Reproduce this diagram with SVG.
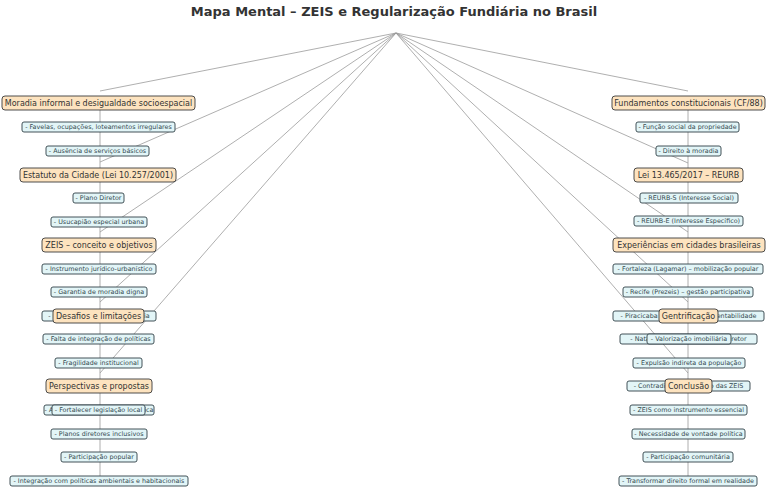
<svg xmlns="http://www.w3.org/2000/svg" width="768" height="500" viewBox="0 0 768 500">
<style>
.bg{fill:#ffffff}
.title{font-family:"DejaVu Sans",sans-serif;font-size:13px;font-weight:bold;fill:#333333;text-anchor:middle}
.main rect{fill:#fde3bf;stroke:#3a3a3a;stroke-width:0.9}
.main text{font-family:"DejaVu Sans",sans-serif;font-size:8px;fill:#333333;text-anchor:middle;dominant-baseline:central}
.leaf rect{fill:#e2f5f7;stroke:#2f3f45;stroke-width:0.9}
.leaf text{font-family:"DejaVu Sans",sans-serif;font-size:6.4px;fill:#34494f;text-anchor:middle;dominant-baseline:central}
.conn line{stroke:#9a9a9a;stroke-width:0.8;fill:none}
.spine{stroke:#9a9a9a;stroke-width:1}
</style>
<rect class="bg" x="0" y="0" width="768" height="500"/>
<text class="title" x="394" y="16">Mapa Mental – ZEIS e Regularização Fundiária no Brasil</text>
<g id="connectors" class="conn">
<line x1="396" y1="33" x2="100" y2="91"/>
<line x1="396" y1="33" x2="100" y2="162"/>
<line x1="396" y1="33" x2="100" y2="232"/>
<line x1="396" y1="33" x2="100" y2="302"/>
<line x1="396" y1="33" x2="100" y2="373"/>
<line x1="396" y1="33" x2="688" y2="91"/>
<line x1="396" y1="33" x2="688" y2="163"/>
<line x1="396" y1="33" x2="688" y2="232"/>
<line x1="396" y1="33" x2="688" y2="302"/>
<line x1="396" y1="33" x2="688" y2="373"/>
<line class="spine" x1="100" y1="103" x2="100" y2="481"/>
<line class="spine" x1="688" y1="103" x2="688" y2="481"/>
</g>
<!-- Left column -->
<g id="moradia" class="main"><rect x="2" y="96" width="193" height="14" rx="3"/><text x="98.5" y="103">Moradia informal e desigualdade socioespacial</text></g>
<g id="favelas" class="leaf"><rect x="22" y="122" width="153" height="10" rx="2"/><text x="98.5" y="127">- Favelas, ocupações, loteamentos irregulares</text></g>
<g id="ausencia" class="leaf"><rect x="46" y="146" width="103" height="10" rx="2"/><text x="97.5" y="151">- Ausência de serviços básicos</text></g>
<g id="estatuto" class="main"><rect x="20" y="168" width="156" height="14" rx="3"/><text x="98" y="175">Estatuto da Cidade (Lei 10.257/2001)</text></g>
<g id="plano-diretor" class="leaf"><rect x="73" y="193" width="51" height="10" rx="2"/><text x="98.5" y="198">- Plano Diretor</text></g>
<g id="usucapiao" class="leaf"><rect x="51" y="217" width="96" height="10" rx="2"/><text x="99" y="222">- Usucapião especial urbana</text></g>
<g id="zeis" class="main"><rect x="42" y="238" width="114" height="14" rx="3"/><text x="99" y="245">ZEIS – conceito e objetivos</text></g>
<g id="instrumento" class="leaf"><rect x="42" y="264" width="114" height="10" rx="2"/><text x="99" y="269">- Instrumento jurídico-urbanístico</text></g>
<g id="garantia" class="leaf"><rect x="51" y="287" width="96" height="10" rx="2"/><text x="99" y="292">- Garantia de moradia digna</text></g>
<g id="incerteza" class="leaf"><rect x="42" y="311" width="114" height="10" rx="2"/><text x="99" y="316">- Incerteza jurídica e burocracia</text></g>
<g id="desafios" class="main"><rect x="53" y="309" width="91" height="14" rx="3"/><text x="98.5" y="316">Desafios e limitações</text></g>
<g id="falta" class="leaf"><rect x="43" y="334" width="111" height="10" rx="2"/><text x="98.5" y="339">- Falta de integração de políticas</text></g>
<g id="fragilidade" class="leaf"><rect x="55" y="358" width="87" height="10" rx="2"/><text x="98.5" y="363">- Fragilidade institucional</text></g>
<g id="perspectivas" class="main"><rect x="46" y="379" width="106" height="14" rx="3"/><text x="99" y="386">Perspectivas e propostas</text></g>
<g id="ausencia-gestao" class="leaf"><rect x="44" y="405" width="110" height="10" rx="2"/><text x="99" y="410">- Ausência de gestão democrática</text></g>
<g id="fortalecer" class="leaf"><rect x="52" y="405" width="93" height="10" rx="2"/><text x="98.5" y="410">- Fortalecer legislação local</text></g>
<g id="planos" class="leaf"><rect x="51" y="429" width="96" height="10" rx="2"/><text x="99" y="434">- Planos diretores inclusivos</text></g>
<g id="participacao-popular" class="leaf"><rect x="61" y="452" width="76" height="10" rx="2"/><text x="99" y="457">- Participação popular</text></g>
<g id="integracao" class="leaf"><rect x="10" y="476" width="178" height="10" rx="2"/><text x="99" y="481">- Integração com políticas ambientais e habitacionais</text></g>
<!-- Right column -->
<g id="fundamentos" class="main"><rect x="612" y="96" width="153" height="14" rx="3"/><text x="688.5" y="103">Fundamentos constitucionais (CF/88)</text></g>
<g id="funcao" class="leaf"><rect x="636" y="122" width="103" height="10" rx="2"/><text x="687.5" y="127">- Função social da propriedade</text></g>
<g id="direito" class="leaf"><rect x="656" y="146" width="65" height="10" rx="2"/><text x="688.5" y="151">- Direito à moradia</text></g>
<g id="lei-reurb" class="main"><rect x="634" y="168" width="109" height="14" rx="3"/><text x="688.5" y="175">Lei 13.465/2017 – REURB</text></g>
<g id="reurb-s" class="leaf"><rect x="640" y="193" width="98" height="10" rx="2"/><text x="689" y="198">- REURB-S (Interesse Social)</text></g>
<g id="reurb-e" class="leaf"><rect x="634" y="216" width="109" height="10" rx="2"/><text x="688.5" y="221">- REURB-E (Interesse Específico)</text></g>
<g id="experiencias" class="main"><rect x="613" y="238" width="152" height="14" rx="3"/><text x="689" y="245">Experiências em cidades brasileiras</text></g>
<g id="fortaleza" class="leaf"><rect x="613" y="264" width="150" height="10" rx="2"/><text x="688" y="269">- Fortaleza (Lagamar) – mobilização popular</text></g>
<g id="recife" class="leaf"><rect x="623" y="287" width="130" height="10" rx="2"/><text x="688" y="292">- Recife (Prezeis) – gestão participativa</text></g>
<g id="piracicaba" class="leaf"><rect x="613" y="311" width="151" height="10" rx="2"/><text x="688.5" y="316">- Piracicaba – desafios de sustentabilidade</text></g>
<g id="gentrificacao" class="main"><rect x="659" y="309" width="59" height="14" rx="3"/><text x="688.5" y="316">Gentrificação</text></g>
<g id="natal" class="leaf"><rect x="620" y="334" width="137" height="10" rx="2"/><text x="688.5" y="339">- Natal – integração ao Plano Diretor</text></g>
<g id="valorizacao" class="leaf"><rect x="647" y="334" width="84" height="10" rx="2"/><text x="689" y="339">- Valorização imobiliária</text></g>
<g id="expulsao" class="leaf"><rect x="633" y="358" width="112" height="10" rx="2"/><text x="689" y="363">- Expulsão indireta da população</text></g>
<g id="contradicoes" class="leaf"><rect x="627" y="381" width="123" height="10" rx="2"/><text x="688.5" y="386">- Contradições na gestão das ZEIS</text></g>
<g id="conclusao" class="main"><rect x="665" y="379" width="47" height="14" rx="3"/><text x="688.5" y="386">Conclusão</text></g>
<g id="zeis-instrumento" class="leaf"><rect x="630" y="405" width="117" height="10" rx="2"/><text x="688.5" y="410">- ZEIS como instrumento essencial</text></g>
<g id="necessidade" class="leaf"><rect x="632" y="429" width="113" height="10" rx="2"/><text x="688.5" y="434">- Necessidade de vontade política</text></g>
<g id="participacao-comunitaria" class="leaf"><rect x="643" y="452" width="90" height="10" rx="2"/><text x="688" y="457">- Participação comunitária</text></g>
<g id="transformar" class="leaf"><rect x="619" y="476" width="138" height="10" rx="2"/><text x="688" y="481">- Transformar direito formal em realidade</text></g>
</svg>
